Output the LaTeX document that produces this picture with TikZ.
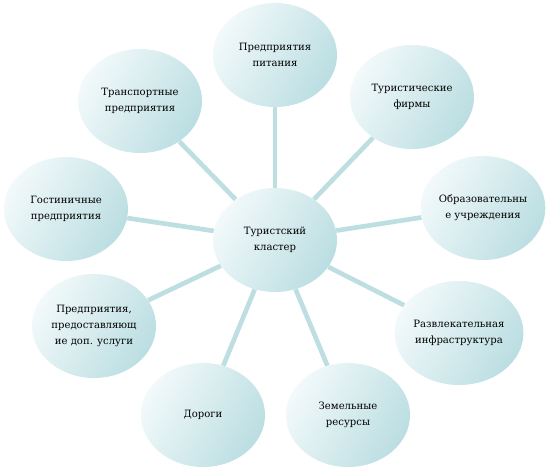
\documentclass[tikz,border=0pt]{standalone}
\usepackage{fontspec}
\setmainfont{DejaVu Serif}
\usetikzlibrary{shapes.geometric}
\usetikzlibrary{backgrounds}
\definecolor{bublight}{HTML}{F2F9FA}
\definecolor{bubdark}{HTML}{BBDEE2}
\definecolor{spoke}{HTML}{BEDFE2}

\begin{document}
\begin{tikzpicture}[x=0.03cm,y=-0.03cm,
  bubble/.style={ellipse,draw=none,left color=bublight,right color=bubdark,shading angle=60,
    minimum width=3.72cm,minimum height=3.12cm,inner sep=0pt,align=center,
    font=\fontsize{8.6}{14}\selectfont},
  spokeline/.style={draw=spoke,line width=4pt}]
\useasboundingbox (0,0) rectangle (548,474);
\node[bubble] (C) at (275,240) {Туристский\\кластер};
\node[bubble] (Pit) at (275,55) {Предприятия\\питания};
\node[bubble] (Firm) at (412,97) {Туристические\\фирмы};
\node[bubble] (Obr) at (483,208) {Образовательны\\е учреждения};
\node[bubble] (Razv) at (459,333) {Развлекательная\\инфраструктура};
\node[bubble] (Zem) at (348,415) {Земельные\\ресурсы};
\node[bubble] (Dor) at (203,415) {Дороги};
\node[bubble] (Usl) at (94,326) {Предприятия,\\предоставляющ\\ие доп. услуги};
\node[bubble] (Gost) at (66,209) {Гостиничные\\предприятия};
\node[bubble] (Trans) at (140,101) {Транспортные\\предприятия};
\begin{scope}[on background layer]
\foreach \n in {Pit,Firm,Obr,Razv,Zem,Dor,Usl,Gost,Trans}
  \draw[spokeline] (C) -- (\n);
\end{scope}
\end{tikzpicture}
\end{document}
